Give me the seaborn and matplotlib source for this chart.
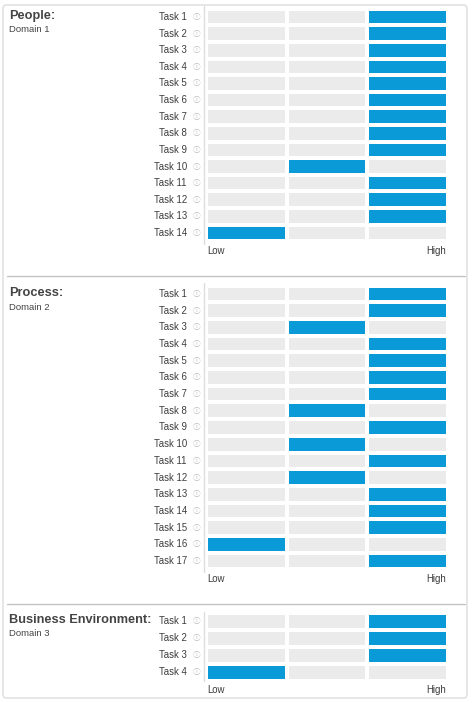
import numpy as np
import pandas as pd
import matplotlib
matplotlib.use("Agg")
import matplotlib.pyplot as plt
from matplotlib.colors import ListedColormap
from matplotlib.patches import FancyBboxPatch
import seaborn as sns

# ---- data ----
domains = ["People:", "Process:", "Business Environment:"]
subtitles = ["Domain 1", "Domain 2", "Domain 3"]
levels = ["Low", "Medium", "High"]
people_tasks = [f"Task {i}" for i in range(1, 15)]
people_levels = [3, 3, 3, 3, 3, 3, 3, 3, 3, 2, 3, 3, 3, 1]
process_tasks = [f"Task {i}" for i in range(1, 18)]
process_levels = [3, 3, 2, 3, 3, 3, 3, 2, 3, 2, 3, 2, 3, 3, 3, 1, 3]
business_tasks = [f"Task {i}" for i in range(1, 5)]
business_levels = [3, 3, 3, 1]

sns.set_theme(style="white")
plt.rcParams['font.family'] = ['Liberation Sans', 'DejaVu Sans']

W, H = 474, 703
fig = plt.figure(figsize=(W / 100, H / 100), dpi=100)

# outer rounded box
box = FancyBboxPatch((3 / W, 5 / H), 464 / W, 693 / H,
                     boxstyle="round,pad=0,rounding_size=0.006",
                     transform=fig.transFigure, facecolor="none",
                     edgecolor="#dcdcdc", linewidth=1.0, zorder=-1)
fig.patches.append(box)

# separators
for yy in [275.5, 603.5]:
    fig.add_artist(plt.Line2D([7 / W, 465 / W], [1 - yy / H, 1 - yy / H],
                              transform=fig.transFigure, color="#c4c4c4", lw=1.0))

sections = [
    (people_tasks, people_levels, 8.7, 241.3, 10),
    (process_tasks, process_levels, 285.7, 569.3, 287),
    (business_tasks, business_levels, 612.5, 680.5, 614),
]

cmap = ListedColormap(["#ebebeb", "#0a9ad8"])
x0, x1 = 205.5, 448.5

for k, (tasks, lv, top, bot, ty) in enumerate(sections):
    ax = fig.add_axes([x0 / W, 1 - bot / H, (x1 - x0) / W, (bot - top) / H])
    df = pd.DataFrame([[1 if l == c + 1 else 0 for c in range(3)] for l in lv],
                      index=tasks, columns=levels)
    sns.heatmap(df, ax=ax, cmap=cmap, vmin=0, vmax=1, cbar=False,
                linewidths=2.6, linecolor="white", xticklabels=False,
                yticklabels=True)
    ax.set_ylabel("")
    ax.set_xlabel("")
    ax.tick_params(axis="y", length=0, pad=13.5, labelsize=6.9, labelcolor="#3c3c3c")
    for lab in ax.get_yticklabels():
        lab.set_rotation(0)
    # info icons
    for i in range(len(tasks)):
        ax.text(-8.5 / (x1 - x0), i + 0.5, "ⓘ", transform=ax.get_yaxis_transform(),
                ha="center", va="center", fontsize=5.5, color="#bdbdbd",
                family=["Noto Sans CJK SC", "DejaVu Sans"])
    # left line
    ax.axvline(-1.5 * 3 / (x1 - x0), color="#dddddd", lw=1.0, clip_on=False,
               ymin=-0.01, ymax=1.01)
    ax.text(1.5 / (x1 - x0), -9.5 / (bot - top), "Low", transform=ax.transAxes,
            ha="left", va="center", fontsize=6.9, color="#3c3c3c")
    ax.text(1 - 2.5 / (x1 - x0), -9.5 / (bot - top), "High", transform=ax.transAxes,
            ha="right", va="center", fontsize=6.9, color="#3c3c3c")

    fig.text(9 / W, 1 - ty / H, domains[k], ha="left", va="top",
             fontsize=9.2, fontweight="bold", color="#444444")
    fig.text(9 / W, 1 - (ty + 15.5) / H, subtitles[k], ha="left", va="top",
             fontsize=6.8, color="#444444")

fig.savefig("out.png", dpi=100)
